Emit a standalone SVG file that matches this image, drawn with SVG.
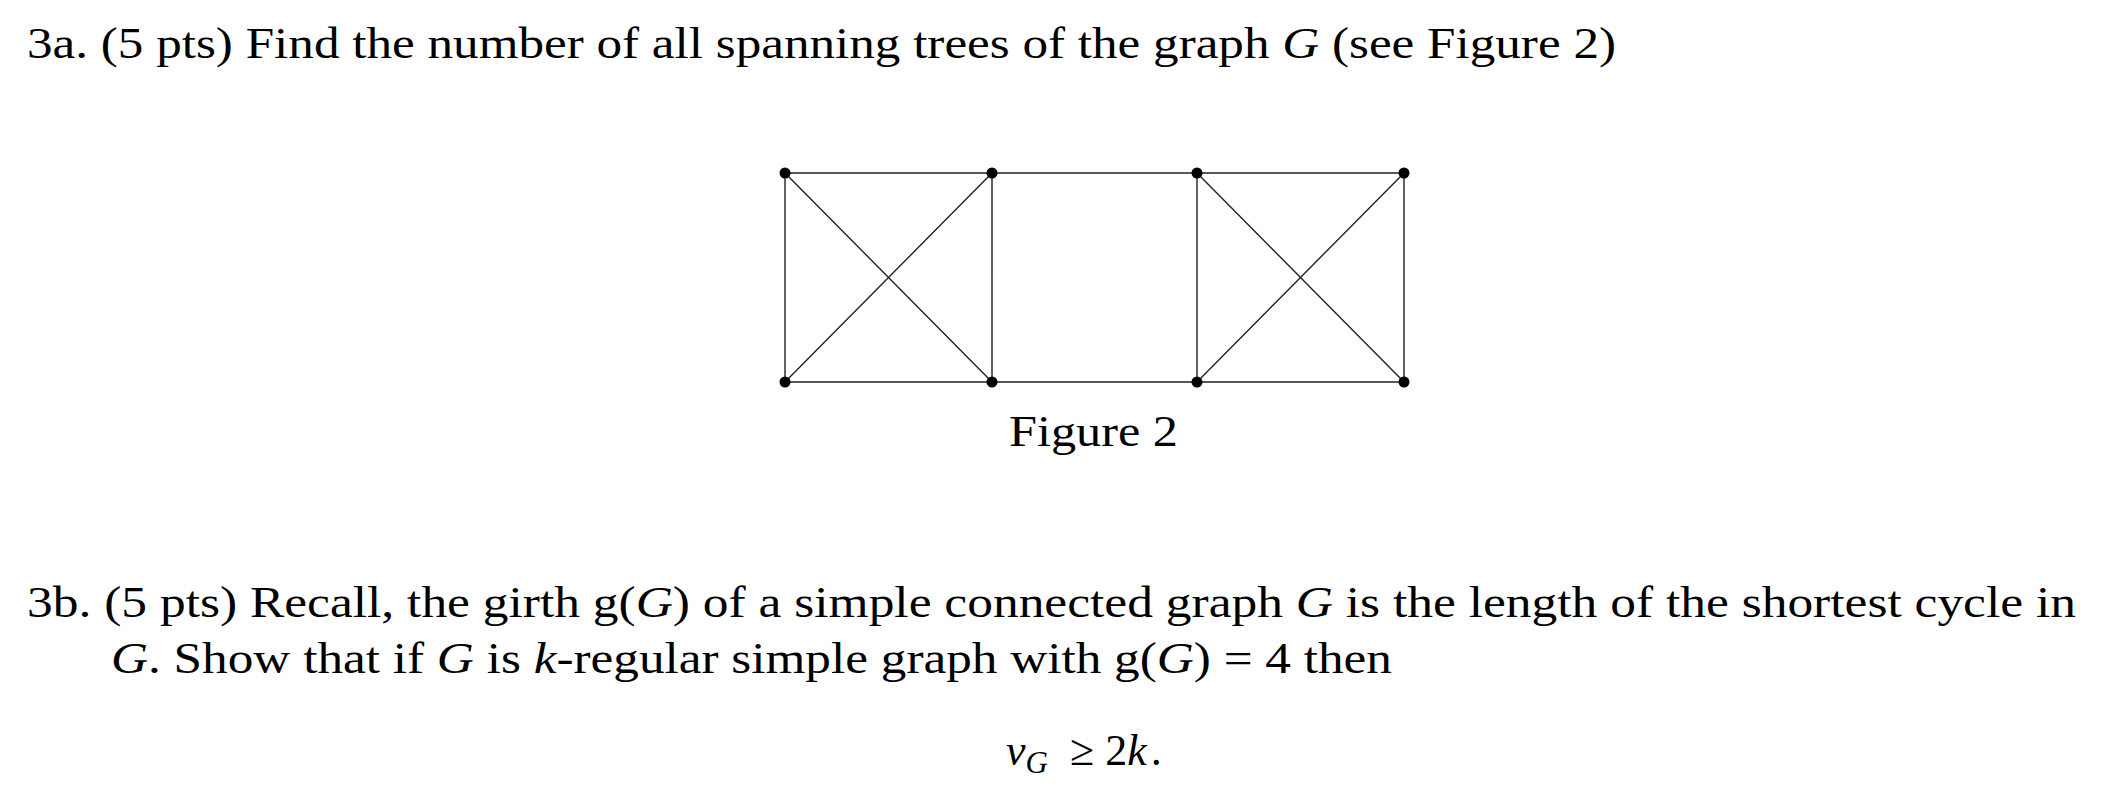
<svg xmlns="http://www.w3.org/2000/svg" width="2118" height="802" viewBox="0 0 2118 802">
<style>
text{font-family:"Liberation Serif","DejaVu Serif",serif;font-size:44px;fill:#000}
.i{font-style:italic}
.e{stroke:#222;stroke-width:1.4;fill:none}
.n{fill:#000}
</style>
<rect width="2118" height="802" fill="#fff"/>
<text x="27" y="58" textLength="1589" lengthAdjust="spacingAndGlyphs">3a. (5 pts) Find the number of all spanning trees of the graph <tspan class="i">G</tspan> (see Figure 2)</text>
<g id="edges">
<path class="e" d="M785 173H1404M785 382H1404M785 173V382M992 173V382M1197 173V382M1404 173V382M785 173L992 382M992 173L785 382M1197 173L1404 382M1404 173L1197 382"/>
</g>
<g id="n1"><circle class="n" cx="785" cy="173" r="5.5"/></g>
<g id="n2"><circle class="n" cx="992" cy="173" r="5.5"/></g>
<g id="n3"><circle class="n" cx="1197" cy="173" r="5.5"/></g>
<g id="n4"><circle class="n" cx="1404" cy="173" r="5.5"/></g>
<g id="n5"><circle class="n" cx="785" cy="382" r="5.5"/></g>
<g id="n6"><circle class="n" cx="992" cy="382" r="5.5"/></g>
<g id="n7"><circle class="n" cx="1197" cy="382" r="5.5"/></g>
<g id="n8"><circle class="n" cx="1404" cy="382" r="5.5"/></g>
<text x="1009" y="446" textLength="169" lengthAdjust="spacingAndGlyphs">Figure 2</text>
<text x="27" y="617" textLength="2049" lengthAdjust="spacingAndGlyphs">3b. (5 pts) Recall, the girth g(<tspan class="i">G</tspan>) of a simple connected graph <tspan class="i">G</tspan> is the length of the shortest cycle in</text>
<text x="111" y="673" textLength="1281" lengthAdjust="spacingAndGlyphs"><tspan class="i">G</tspan>. Show that if <tspan class="i">G</tspan> is <tspan class="i">k</tspan>-regular simple graph with g(<tspan class="i">G</tspan>) = 4 then</text>
<text x="1006" y="765"><tspan class="i">v</tspan><tspan class="i" font-size="31" dy="8">G</tspan><tspan x="1070" dy="-8">≥ 2</tspan><tspan class="i">k</tspan><tspan dx="4">.</tspan></text>
</svg>
